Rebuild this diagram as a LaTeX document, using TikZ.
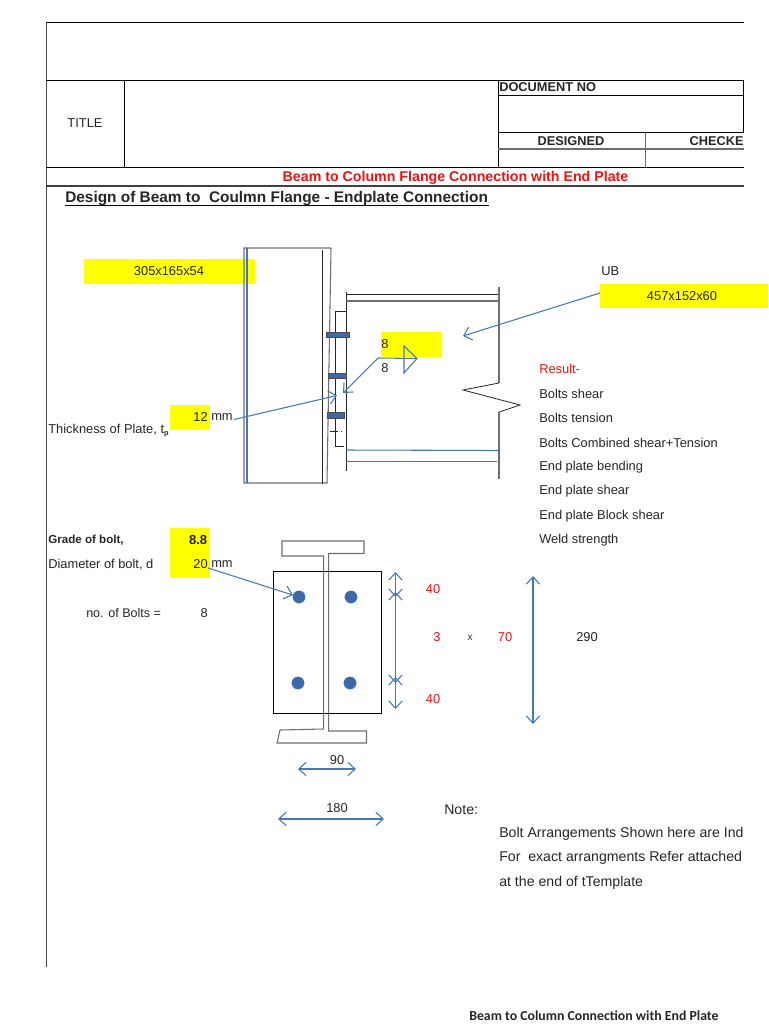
\documentclass[tikz,border=0pt]{standalone}
\usepackage{fontspec}
\setmainfont{Liberation Sans}
\newfontfamily\carl{Carlito}
\usetikzlibrary{arrows.meta}
\definecolor{bl}{RGB}{70,120,185}
\definecolor{blf}{RGB}{60,105,170}
\definecolor{hl}{RGB}{255,255,0}
\definecolor{rd}{RGB}{235,20,20}
\definecolor{gr}{RGB}{110,110,110}
\tikzset{
 txt/.style={inner sep=0pt,font=\fontsize{9.65}{11}\selectfont,text=black!85},
 lt/.style={txt,anchor=west},
 rt/.style={txt,anchor=east},
 ct/.style={txt,anchor=center},
 notetxt/.style={lt,font=\fontsize{10.6}{12}\selectfont},
 red/.style={text=rd},
 hbox/.style={fill=hl,draw=none,inner sep=0pt,anchor=north west},
 grid/.style={draw=black,line width=0.7pt},
 gline/.style={draw=gr,line width=0.8pt},
 ink/.style={draw=black!85,line width=0.6pt},
 blueline/.style={draw=bl,line width=0.8pt},
 arr/.style={blueline,-{Straight Barb[length=5.5pt,width=10pt]}},
 darr/.style={blueline,{Straight Barb[length=5.5pt,width=10pt]}-{Straight Barb[length=5.5pt,width=10pt]}},
 bolt/.style={circle,fill=blf,draw=bl,line width=0.4pt,minimum size=9.2pt,inner sep=0pt},
 boltbar/.style={fill=blf,draw=black!70,line width=0.4pt},
}
\begin{document}
\begin{tikzpicture}[x=0.75pt,y=-0.75pt]
\useasboundingbox (0,0) rectangle (768,1024);
% highlights
\node[hbox,minimum width=128.25pt,minimum height=18.75pt] (h1) at (84,259) {};
\node[hbox,minimum width=126pt,minimum height=18pt] (h2) at (600,284) {};
\node[hbox,minimum width=45.75pt,minimum height=18.75pt] (h3) at (381,332) {};
\node[hbox,minimum width=30pt,minimum height=18.75pt] (h4) at (170,405) {};
\node[hbox,minimum width=30pt,minimum height=18.4pt] (h5) at (170,528) {};
\node[hbox,minimum width=30pt,minimum height=18.4pt] (h6) at (170,553) {};
% frame
\draw[draw=black!70,line width=1.3pt] (46.5,967)--(46.5,22);
\draw[grid] (46,22)--(744,22);
\draw[grid] (46,80)--(744,80);
\draw[grid] (46,167)--(744,167);
\draw[draw=black!75,line width=1.2pt] (46,186)--(744,186);
\draw[grid] (124,80)--(124,167);
\draw[grid] (498,80)--(498,167);
\draw[grid] (743.5,80)--(743.5,132);
\draw[grid] (498,95.5)--(744,95.5);
\draw[grid] (498,132)--(744,132);
\draw[gline] (498,149)--(744,149);
\draw[gline] (645.5,132)--(645.5,167);
% header text
\node[ct] (ttl) at (85,123) {TITLE};
\node[lt,font=\fontsize{9.6}{11}\bfseries] (doc) at (499,87.5) {DOCUMENT NO};
\node[ct,font=\fontsize{9.6}{11}\bfseries] (des) at (571,141.5) {DESIGNED};
\node[rt,font=\fontsize{9.6}{11}\bfseries] (chk) at (744,141.5) {CHECKE};
\node[ct,red,font=\fontsize{10.65}{12}\bfseries] (main) at (455.5,178) {Beam to Column Flange Connection with End Plate};
\node[lt,font=\fontsize{11.55}{13}\bfseries] (head) at (65,199) {Design of Beam to\ \ Coulmn Flange - Endplate Connection};
\draw[black,line width=0.7pt] (65,205.5)--(489,205.5);
% column
\draw[gline] (331,248)--(244,248)--(244,483)--(327,483)--(331,248);
\draw[blueline] (247,248)--(247,483);
\draw[ink] (322.5,250)--(322.5,484);
% plate
\draw[ink] (346,311)--(335,311)--(335,446)--(344,446);
\draw[ink] (346,292)--(346,471);
% beam
\draw[ink,line width=0.8pt] (346,294.5)--(499,294.5);
\draw[gline] (346,301)--(499,301);
\draw[gline] (499,287)--(499,383);
\draw[ink] (499,383)--(463,390)--(520,405)--(499,412);
\draw[gline] (499,412)--(499,479);
\draw[blueline] (346,450)--(499,450.5);
\draw[gline] (346,461.5)--(497,461.5);
% bolts side
\draw[boltbar] (326,332) rectangle (349,337);
\draw[boltbar] (328,373) rectangle (346,378);
\draw[boltbar] (327,412.5) rectangle (344,418);
\draw[ink,dash pattern=on 6pt off 2pt on 1pt off 2pt] (330,431.5)--(343,431.5);
% weld symbol
\coordinate (wk) at (378,358);
\coordinate (wt) at (343,393);
\coordinate (wr) at (417,358.5);
\coordinate (w1) at (404,346);
\coordinate (w2) at (404,373);
\draw[arr] (wk)--(wt);
\draw[blueline] (wk)--(wr);
\draw[blueline] (w1)--(wr)--(w2)--cycle;
% side labels
\node[ct] (t1) at (169,271) {305x165x54};
\node[lt] (t2) at (601,271) {UB};
\node[ct] (t3) at (682,296) {457x152x60};
\node[lt] (w8a) at (381,344) {8};
\node[lt] (w8b) at (381,368.5) {8};
\node[lt] (tp) at (48,430.5) {Thickness of Plate, t\raisebox{-2pt}{\fontsize{5.5}{6}\bfseries p}};
\node[rt] (tv) at (208,417) {12};
\node[lt] (tm) at (211,417) {mm};
% results
\node[lt,red] (r0) at (539,369) {Result-};
\node[lt] (r1) at (539,394) {Bolts shear};
\node[lt] (r2) at (539,418) {Bolts tension};
\node[lt] (r3) at (539,442.5) {Bolts Combined shear+Tension};
\node[lt] (r4) at (539,467) {End plate bending};
\node[lt] (r5) at (539,491) {End plate shear};
\node[lt] (r6) at (539,516) {End plate Block shear};
\node[lt] (r7) at (539,540.5) {Weld strength};
% left data
\node[lt,font=\fontsize{8.7}{11}\bfseries] (g1) at (48,540.5) {Grade of bolt,};
\node[rt,font=\fontsize{9.8}{11}\bfseries] (g2) at (207.5,540) {8.8};
\node[lt] (d1) at (48,564.5) {Diameter of bolt, d};
\node[rt] (d2) at (208,564) {20};
\node[lt] (d3) at (211,564) {mm};
\node[lt,font=\fontsize{9.4}{11}\selectfont] (n1) at (86,613) {no. of Bolts =};
\node[rt] (n2) at (208,613) {8};
% I section
\draw[gline] (323.7,729)--(323.7,556)--(282,556)--(282,541)--(364,541)--(364,553.5)--(328.7,553.5)--(328.7,731)--(366.5,731)--(366.5,743)--(277,743)--(280,730)--(323.7,729);
\draw[draw=black,line width=0.7pt] (273,571) rectangle (381,713);
\node[bolt] (b1) at (299,597) {};
\node[bolt] (b2) at (351,597) {};
\node[bolt] (b3) at (298,683) {};
\node[bolt] (b4) at (350,683) {};
% leaders
\coordinate (l1) at (234,419.5);
\coordinate (l1t) at (337,395.5);
\draw[arr] (l1)--(l1t);
\coordinate (l2) at (208,568);
\draw[arr] (l2)--(b1);
\coordinate (l3) at (600,293);
\coordinate (l3t) at (463,336);
\draw[arr] (l3)--(l3t);
% dims
\coordinate (v0) at (395.5,572);
\coordinate (v1) at (395.5,597);
\coordinate (v2) at (395.5,592);
\coordinate (v3) at (395.5,683);
\coordinate (v4) at (395.5,677);
\coordinate (v5) at (395.5,709);
\draw[darr] (v0)--(v1);
\draw[darr] (v2)--(v3);
\draw[darr] (v4)--(v5);
\coordinate (w0) at (533,576);
\coordinate (w9) at (533,724);
\draw[darr] (w0)--(w9);
\coordinate (a0) at (298,769);
\coordinate (a1) at (356,769);
\draw[darr] (a0)--(a1);
\coordinate (c0) at (278,819);
\coordinate (c1) at (384,819);
\draw[darr] (c0)--(c1);
\node[ct,red] (d40a) at (433,589) {40};
\node[ct,red] (d3v) at (437,637) {3};
\node[ct,font=\fontsize{7.5}{9}\selectfont] (dx) at (470,637.5) {x};
\node[ct,red] (d70) at (505,637) {70};
\node[ct] (d290) at (587,637) {290};
\node[ct,red] (d40b) at (433,699) {40};
\node[ct] (d90) at (337,760) {90};
\node[ct] (d180) at (337,808) {180};
% notes
\node[notetxt] (nt) at (444,809.5) {Note:};
\node[notetxt] (n1a) at (499,833.5) {Bolt Arrangements Shown here are Ind};
\node[notetxt] (n2a) at (499,858) {For\ \ exact arrangments Refer attached};
\node[notetxt] (n3a) at (499,882.5) {at the end of tTemplate};
\node[lt,font=\carl\fontsize{10.35}{12}\bfseries] (foot) at (469,1016) {Beam to Column Connection with End Plate};
\end{tikzpicture}
\end{document}
